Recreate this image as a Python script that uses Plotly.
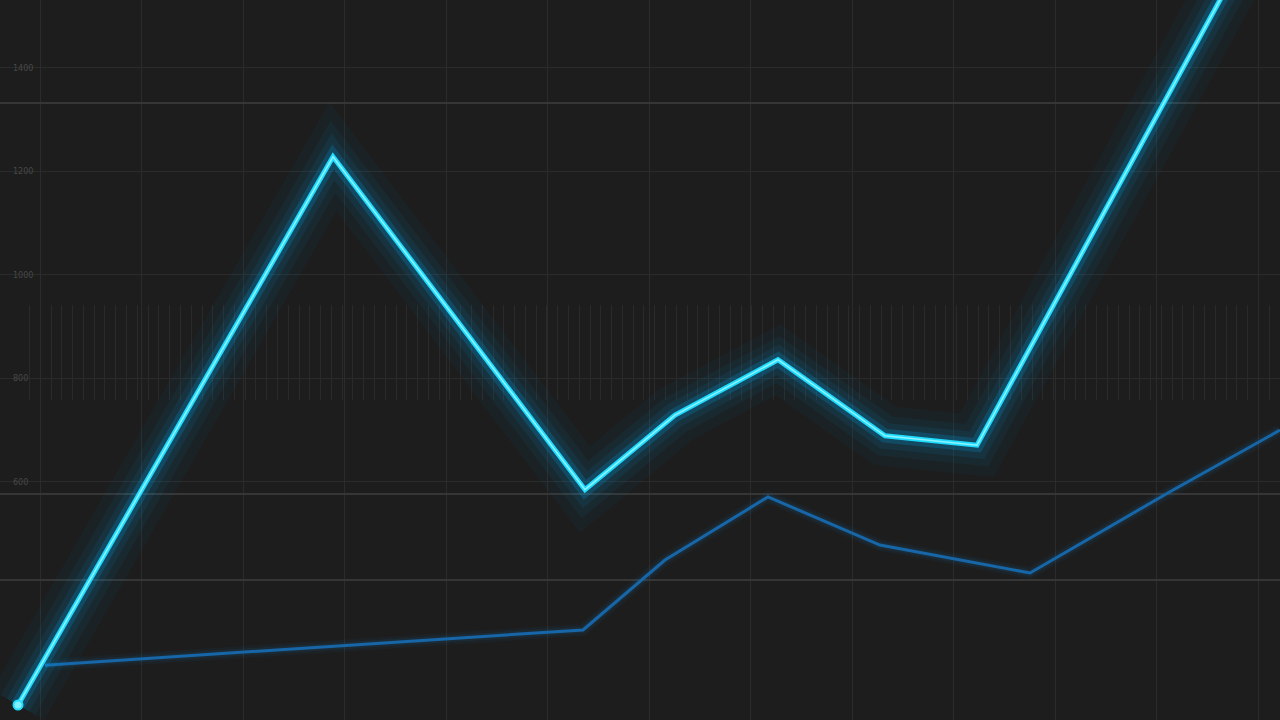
import plotly.graph_objects as go

# Data (x in arbitrary time units, y in value units)
bright_x = [1.8, 33.3, 58.5, 67.5, 77.8, 88.5, 97.7, 122.0, 127.0]
bright_y = [169, 1228, 585, 729, 836, 689, 671, 1531, 1708]
dark_x = [4.5, 58.3, 66.5, 76.8, 88.0, 103.0, 117.0, 128.0]
dark_y = [246, 314, 449, 571, 478, 424, 581, 700]
tick_vals = [600, 800, 1000, 1200, 1400]
tick_text = ["600", "800", "1000", "1200", "1400"]
accent_grid = [1332, 577, 411]

BG = "#1d1d1d"
fig = go.Figure()

# Dense hatch band subplot (decorative, drawn first / underneath)
fig.add_trace(go.Scatter(x=[0, 128], y=[0, 1], mode="markers",
                         marker=dict(opacity=0), xaxis="x", yaxis="y",
                         hoverinfo="skip", showlegend=False))
# Accent horizontal gridlines
fig.add_trace(go.Scatter(x=[0, 128], y=[140, 1531], mode="markers",
                         marker=dict(opacity=0), xaxis="x2", yaxis="y3",
                         hoverinfo="skip", showlegend=False))

# Dark line
for w, op in [(12, 0.05), (7, 0.10)]:
    fig.add_trace(go.Scatter(x=dark_x, y=dark_y, mode="lines",
                             line=dict(color="#1a7fc6", width=w), opacity=op,
                             xaxis="x2", yaxis="y2",
                             hoverinfo="skip", showlegend=False))
fig.add_trace(go.Scatter(x=dark_x, y=dark_y, mode="lines",
                         line=dict(color="#1766a8", width=3),
                         xaxis="x2", yaxis="y2", showlegend=False))

# Bright glowing line
for w, op in [(60, 0.035), (40, 0.05), (26, 0.08), (14, 0.20)]:
    fig.add_trace(go.Scatter(x=bright_x, y=bright_y, mode="lines",
                             line=dict(color="#00a8f0", width=w), opacity=op,
                             xaxis="x2", yaxis="y2",
                             hoverinfo="skip", showlegend=False))
fig.add_trace(go.Scatter(x=bright_x, y=bright_y, mode="lines",
                         line=dict(color="#1fdcff", width=5),
                         xaxis="x2", yaxis="y2", showlegend=False))
fig.add_trace(go.Scatter(x=bright_x, y=bright_y, mode="lines",
                         line=dict(color="#8ff2ff", width=1.5),
                         xaxis="x2", yaxis="y2", showlegend=False))
fig.add_trace(go.Scatter(x=bright_x[:1], y=bright_y[:1], mode="markers",
                         marker=dict(color="#7ff0ff", size=9,
                                     line=dict(color="#22dcff", width=2)),
                         xaxis="x2", yaxis="y2", showlegend=False))

fig.update_layout(
    width=1280, height=720,
    margin=dict(l=0, r=0, t=0, b=0),
    paper_bgcolor=BG, plot_bgcolor="rgba(0,0,0,0)",
    # hatch band
    xaxis=dict(range=[0, 128], domain=[0.02, 1], anchor="y", dtick=1.1,
               tick0=0.4, gridcolor="#2a2a2a", gridwidth=1,
               showticklabels=False, zeroline=False),
    yaxis=dict(range=[0, 1], domain=[0.444, 0.576], anchor="x",
               showgrid=False, showticklabels=False, zeroline=False),
    # main chart
    xaxis2=dict(range=[0, 128], domain=[0, 1], anchor="y2", tick0=4,
                dtick=10.15, showgrid=True, gridcolor="#2b2b2b", gridwidth=1,
                zeroline=False, showticklabels=False, showline=False),
    yaxis2=dict(range=[140, 1531], domain=[0, 1], anchor="x2",
                tickvals=tick_vals, ticktext=tick_text,
                gridcolor="#2b2b2b", gridwidth=1, zeroline=False,
                ticklabelposition="inside", ticks="",
                tickfont=dict(family="DejaVu Sans", size=8, color="#484848"),
                ticklabelstandoff=10, showline=False),
    yaxis3=dict(range=[140, 1531], overlaying="y2", anchor="x2",
                tickvals=accent_grid, showticklabels=False,
                gridcolor="#363636", gridwidth=1.5, zeroline=False),
)

fig.write_html("out.html", config={"displayModeBar": False},
               post_script="document.body.style.margin='0';")
